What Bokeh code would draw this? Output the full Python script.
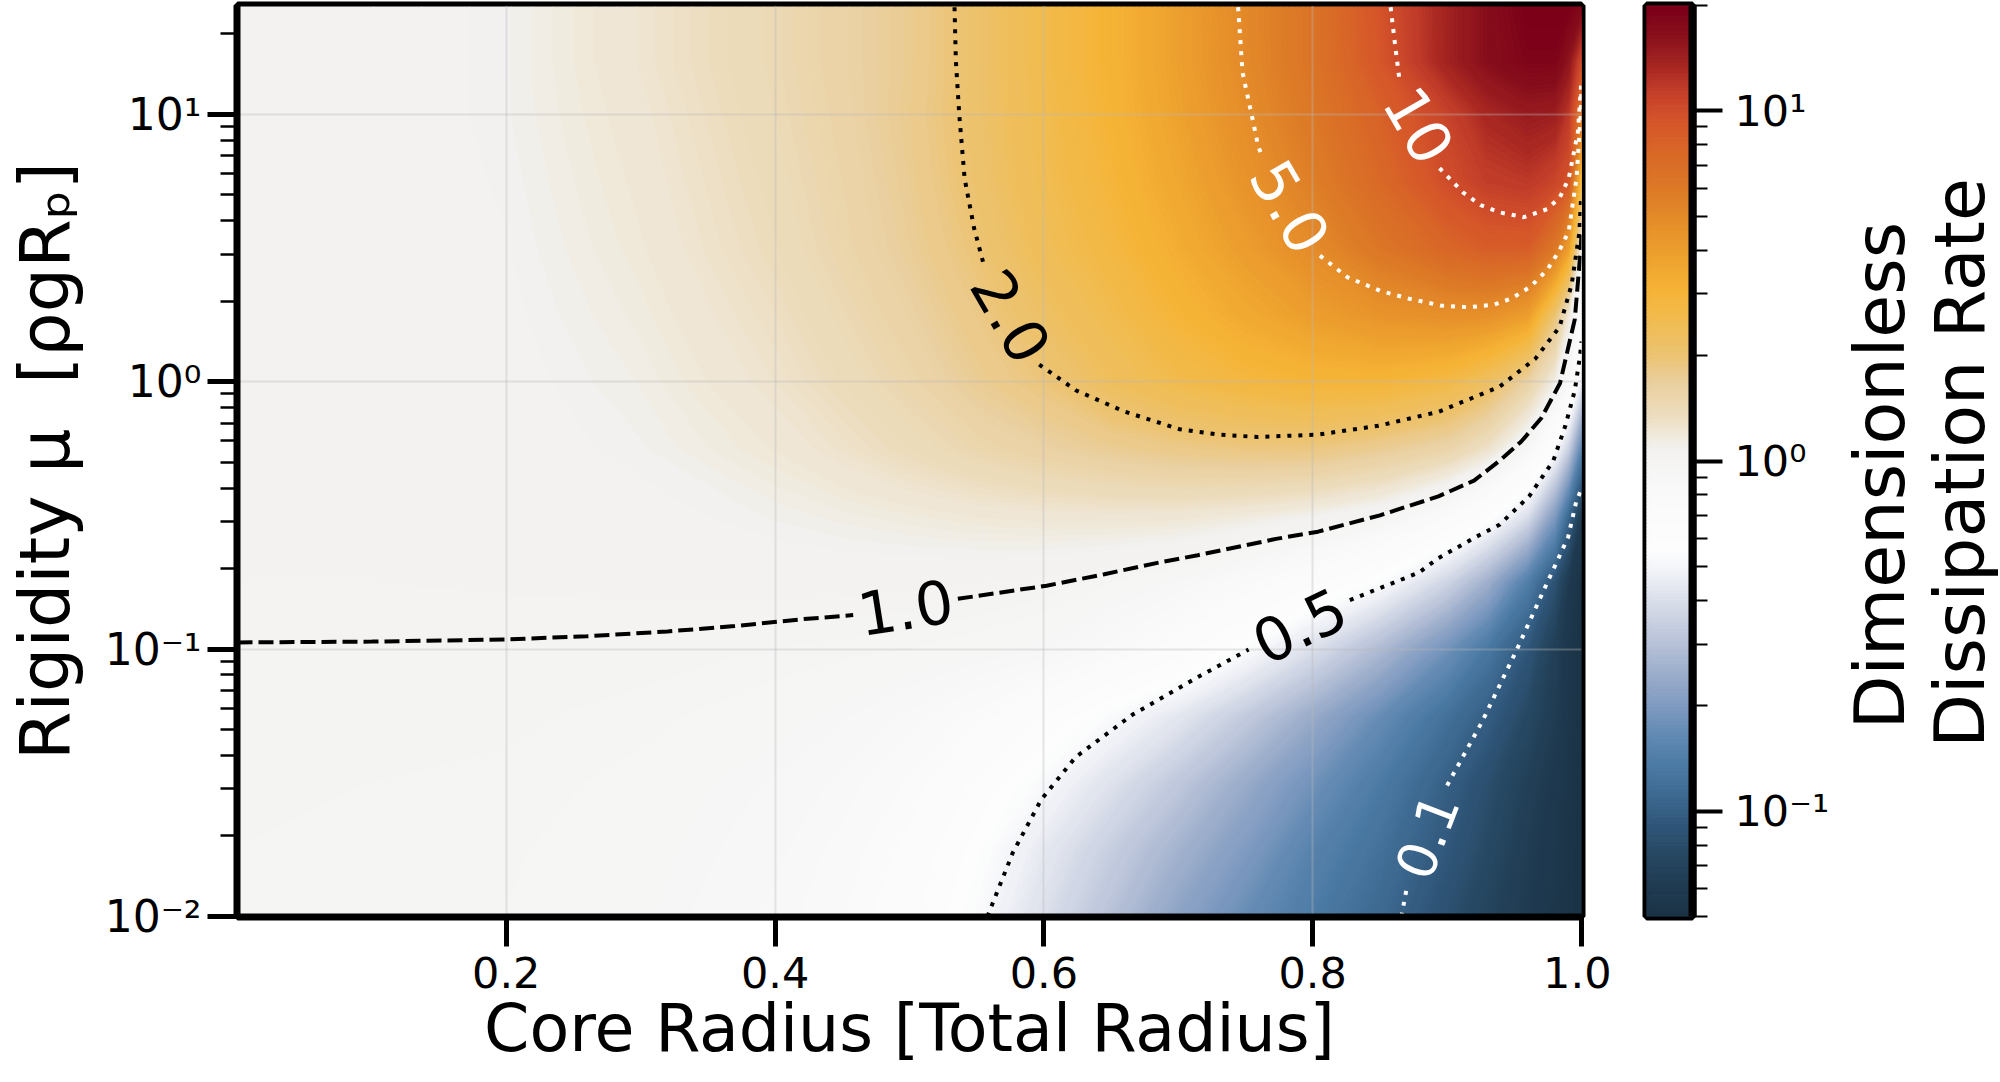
import numpy as np
from bokeh.plotting import figure
from bokeh.layouts import row
from bokeh.models import ColumnDataSource, FixedTicker, Range1d
from bokeh.plotting.contour import contour_data
from bokeh.core.properties import value
from bokeh.embed import file_html
from bokeh.resources import INLINE

# ---------------- data ----------------
core_radius = [0.0, 0.1, 0.2, 0.3, 0.4, 0.45, 0.5, 0.55, 0.6, 0.65, 0.7, 0.75,
               0.8, 0.85, 0.9, 0.93, 0.96, 0.98, 0.99, 1.0]
rigidity_exp = [-2.0, -1.75, -1.5, -1.25, -1.0, -0.75, -0.5, -0.25, 0.0, 0.25,
                0.5, 0.75, 1.0, 1.2, 1.4]   # log10 of rigidity

diss_m200 = [0.975, 0.97, 0.96, 0.93, 0.86, 0.79, 0.68, 0.53, 0.40, 0.30, 0.22, 0.17, 0.135, 0.11, 0.083, 0.07, 0.06, 0.054, 0.052, 0.05]
diss_m175 = [0.98, 0.975, 0.965, 0.94, 0.88, 0.82, 0.72, 0.57, 0.44, 0.34, 0.26, 0.20, 0.15, 0.12, 0.092, 0.076, 0.062, 0.055, 0.052, 0.05]
diss_m150 = [0.985, 0.98, 0.975, 0.95, 0.90, 0.86, 0.78, 0.64, 0.52, 0.41, 0.32, 0.24, 0.18, 0.135, 0.10, 0.082, 0.066, 0.057, 0.053, 0.05]
diss_m125 = [0.99, 0.99, 0.985, 0.97, 0.94, 0.91, 0.86, 0.77, 0.65, 0.53, 0.43, 0.33, 0.24, 0.17, 0.12, 0.098, 0.075, 0.062, 0.055, 0.05]
diss_m100 = [0.998, 0.998, 0.997, 0.993, 0.978, 0.97, 0.96, 0.94, 0.91, 0.82, 0.70, 0.54, 0.40, 0.28, 0.18, 0.13, 0.09, 0.065, 0.055, 0.05]
diss_m075 = [1.02, 1.02, 1.025, 1.03, 1.035, 1.035, 1.03, 1.02, 1.003, 0.96, 0.90, 0.80, 0.68, 0.54, 0.36, 0.25, 0.14, 0.085, 0.06, 0.05]
diss_m050 = [1.03, 1.03, 1.04, 1.06, 1.11, 1.14, 1.17, 1.20, 1.22, 1.23, 1.22, 1.17, 1.10, 1.0, 0.78, 0.60, 0.40, 0.20, 0.11, 0.06]
diss_m025 = [1.03, 1.03, 1.05, 1.10, 1.20, 1.28, 1.38, 1.50, 1.62, 1.74, 1.84, 1.90, 1.90, 1.75, 1.55, 1.28, 0.92, 0.55, 0.35, 0.15]
diss_p000 = [1.03, 1.035, 1.06, 1.13, 1.27, 1.38, 1.52, 1.74, 1.95, 2.30, 2.60, 2.85, 3.0, 3.0, 2.7, 2.25, 1.6, 1.12, 0.85, 0.45]
diss_p025 = [1.03, 1.04, 1.07, 1.16, 1.32, 1.45, 1.62, 1.86, 2.2, 2.55, 3.0, 3.5, 4.0, 4.5, 4.75, 4.7, 4.0, 2.0, 1.2, 0.7]
diss_p050 = [1.03, 1.04, 1.08, 1.19, 1.37, 1.52, 1.71, 1.98, 2.4, 2.8, 3.35, 4.05, 4.95, 6.3, 7.8, 8.6, 8.6, 6.2, 4.0, 1.0]
diss_p075 = [1.03, 1.04, 1.09, 1.21, 1.40, 1.55, 1.75, 2.07, 2.5, 2.95, 3.6, 4.5, 5.7, 7.5, 10.1, 11.5, 12.0, 10.8, 9.5, 2.5]
diss_p100 = [1.03, 1.04, 1.10, 1.23, 1.43, 1.58, 1.78, 2.10, 2.55, 3.05, 3.8, 4.85, 6.2, 8.2, 11.0, 13.5, 15.0, 14.5, 12.0, 6.0]
diss_p120 = [1.03, 1.04, 1.10, 1.25, 1.45, 1.60, 1.76, 2.10, 2.6, 3.1, 3.9, 5.05, 6.5, 9.3, 14.0, 17.0, 19.0, 19.0, 16.0, 10.0]
diss_p140 = [1.03, 1.04, 1.10, 1.25, 1.45, 1.60, 1.76, 2.10, 2.6, 3.1, 3.9, 5.1, 6.5, 9.5, 14.0, 17.0, 20.0, 21.0, 21.0, 18.0]

# contour lines (core radius, log10 rigidity), split where the labels sit
c10_a_x = [0.858, 0.8615, 0.8647]
c10_a_e = [1.40, 1.25, 1.124]
c10_b_x = [0.8944, 0.912, 0.925, 0.939, 0.957, 0.9745, 0.984, 0.9905, 0.9973, 1.0]
c10_b_e = [0.798, 0.707, 0.66, 0.633, 0.615, 0.645, 0.69, 0.76, 0.932, 1.13]

c5_a_x = [0.7445, 0.7478, 0.7545, 0.759, 0.7622]
c5_a_e = [1.40, 1.156, 1.0, 0.891, 0.84]
c5_b_x = [0.8054, 0.826, 0.85, 0.871, 0.895, 0.916, 0.935, 0.948, 0.962, 0.9745, 0.9835, 0.9905, 0.9963, 0.9994, 1.0]
c5_b_e = [0.471, 0.39, 0.34, 0.311, 0.285, 0.278, 0.288, 0.311, 0.355, 0.418, 0.49, 0.562, 0.76, 1.0, 1.1]

c2_a_x = [0.5335, 0.5345, 0.537, 0.541, 0.548, 0.5557]
c2_a_e = [1.40, 1.20, 1.00, 0.76, 0.575, 0.429]
c2_b_x = [0.5965, 0.624, 0.66, 0.701, 0.73, 0.759, 0.804, 0.849, 0.894, 0.939, 0.9657, 0.9837, 0.9927, 0.9984, 0.9998]
c2_b_e = [0.064, -0.033, -0.112, -0.178, -0.198, -0.207, -0.198, -0.165, -0.112, -0.019, 0.086, 0.205, 0.364, 0.557, 0.70]

c1_a_x = [0.0, 0.1, 0.2, 0.26, 0.32, 0.37, 0.421, 0.4581]
c1_a_e = [-0.975, -0.972, -0.964, -0.952, -0.934, -0.914, -0.888, -0.873]
c1_b_x = [0.536, 0.602, 0.645, 0.687, 0.7145, 0.7727, 0.804, 0.85, 0.8935, 0.92, 0.939, 0.955, 0.97, 0.984, 0.995, 0.9994, 1.0]
c1_b_e = [-0.812, -0.763, -0.72, -0.675, -0.649, -0.588, -0.561, -0.50, -0.429, -0.37, -0.296, -0.225, -0.137, -0.006, 0.233, 0.495, 0.55]

c05_a_x = [0.558, 0.5768, 0.598, 0.6236, 0.666, 0.717, 0.7523]
c05_a_e = [-2.0, -1.762, -1.563, -1.404, -1.245, -1.098, -1.002]
c05_b_x = [0.8276, 0.851, 0.879, 0.8935, 0.9217, 0.939, 0.961, 0.979, 0.988, 0.995, 0.999, 1.0]
c05_b_e = [-0.817, -0.77, -0.714, -0.66, -0.58, -0.535, -0.429, -0.296, -0.165, -0.033, 0.10, 0.15]

c01_a_x = [0.866, 0.870]
c01_a_e = [-2.0, -1.893]
c01_b_x = [0.900, 0.926, 0.9515, 0.973, 0.99, 0.996, 1.0]
c01_b_e = [-1.51, -1.272, -1.006, -0.768, -0.582, -0.45, -0.40]

label_text = ["10", "5.0", "2.0", "1.0", "0.5", "0.1"]
label_x = [0.8796, 0.7838, 0.576, 0.497, 0.790, 0.885]
label_e = [0.961, 0.6555, 0.2465, -0.8415, -0.9095, -1.70]

x_ticks = [0.2, 0.4, 0.6, 0.8, 1.0]
x_tick_labels = ["0.2", "0.4", "0.6", "0.8", "1.0"]
y_ticks = [0.01, 0.1, 1.0, 10.0]
y_tick_labels = ["10⁻²", "10⁻¹", "10⁰", "10¹"]
cb_ticks = [0.1, 1.0, 10.0]
cb_tick_labels = ["10⁻¹", "10⁰", "10¹"]

x_title = "Core Radius [Total Radius]"
y_title = "Rigidity μ\u00a0\u00a0[ρgRₚ]"
cb_title = ["Dimensionless", "Dissipation Rate"]

# ---------------- styling ----------------
FONT = "DejaVu Sans"
VMIN, VMAX = 0.05, 20.0
H = 1082
TOP, BOTTOM = 5, 166

anchors = [(-1.301, "#1b3346"), (-1.21, "#203c53"), (-1.125, "#274862"), (-1.04, "#30577a"),
           (-0.958, "#3d6990"), (-0.873, "#4b7aa4"), (-0.787, "#6189b2"), (-0.705, "#7e9ac0"),
           (-0.62, "#98abc9"), (-0.535, "#b3bed6"), (-0.452, "#cbd2e2"), (-0.367, "#e3e6ef"),
           (-0.30, "#f5f6fa"), (-0.25, "#fdfdfd"), (-0.115, "#fafafa"), (-0.031, "#f6f6f6"),
           (0.035, "#f2f1ef"), (0.138, "#ecdcbc"), (0.221, "#ead0a0"), (0.305, "#ecc372"),
           (0.39, "#f0bd55"), (0.489, "#f6b436"), (0.59, "#eda02e"), (0.69, "#e58d2a"),
           (0.773, "#dd7b27"), (0.872, "#d96a27"), (0.97, "#d6562a"), (1.055, "#c5402a"),
           (1.14, "#a42421"), (1.225, "#880f1c"), (1.301, "#7b0018")]


def hex2rgb(h):
    return [int(h[i:i + 2], 16) for i in (1, 3, 5)]


a_pos = np.array([a[0] for a in anchors])
a_col = np.array([hex2rgb(a[1]) for a in anchors], dtype=float)
NPAL = 256
t = np.linspace(a_pos[0], a_pos[-1], NPAL)
palette = ["#%02x%02x%02x" % tuple(int(round(np.interp(tt, a_pos, a_col[:, k]))) for k in range(3)) for tt in t]

lo, hi = np.log10(VMIN), np.log10(VMAX)

# ---------------- main figure ----------------
p = figure(width=1611, height=H, x_range=Range1d(0, 1), y_range=Range1d(0.01, 25.5),
           y_axis_type="log", output_backend="svg", toolbar_location=None,
           min_border_left=232, min_border_right=30, min_border_top=TOP, min_border_bottom=BOTTOM)
p.background_fill_color = "#f3f2f0"
p.border_fill_color = "white"
p.outline_line_color = "black"
p.outline_line_width = 8

# filled field via the library's contouring
dissipation = np.array([diss_m200, diss_m175, diss_m150, diss_m125, diss_m100, diss_m075, diss_m050,
                        diss_m025, diss_p000, diss_p025, diss_p050, diss_p075, diss_p100, diss_p120,
                        diss_p140])
z = np.log10(np.clip(dissipation, VMIN, VMAX))
nb = 300
levels = np.linspace(lo - 1e-6, hi + 1e-6, nb + 1)
cd = contour_data(np.array(core_radius), np.array(rigidity_exp), z, levels, want_fill=True, want_line=False)
fd = cd.fill_data
fx, fy, fc = [], [], []
for i in range(len(fd.xs)):
    lvx, lvy = fd.xs[i], fd.ys[i]
    if lvx is None or len(lvx) == 0:
        continue
    mid = 0.5 * (fd.lower_levels[i] + fd.upper_levels[i])
    idx = int(np.clip(round((mid - lo) / (hi - lo) * (NPAL - 1)), 0, NPAL - 1))
    fx.append([[np.asarray(r).tolist() for r in poly] for poly in lvx])
    fy.append([[(10.0 ** np.asarray(r)).tolist() for r in poly] for poly in lvy])
    fc.append(palette[idx])
fill_src = ColumnDataSource(dict(xs=fx, ys=fy, color=fc))
p.multi_polygons(xs="xs", ys="ys", source=fill_src, fill_color="color", line_color="color",
                 line_width=1.5, level="image")

# grid over the field
p.xgrid.ticker = FixedTicker(ticks=x_ticks)
p.ygrid.ticker = FixedTicker(ticks=y_ticks)
for g in (p.xgrid, p.ygrid):
    g.grid_line_color = "#b8b8b8"
    g.grid_line_alpha = 0.35
    g.grid_line_width = 2


def seg(xs, es):
    return list(xs), [10.0 ** e for e in es]


line_sets = [
    ([seg(c10_a_x, c10_a_e), seg(c10_b_x, c10_b_e), seg(c5_a_x, c5_a_e), seg(c5_b_x, c5_b_e),
      seg(c01_a_x, c01_a_e), seg(c01_b_x, c01_b_e)], "white", "4 7"),
    ([seg(c2_a_x, c2_a_e), seg(c2_b_x, c2_b_e), seg(c05_a_x, c05_a_e), seg(c05_b_x, c05_b_e)], "black", "4 7"),
    ([seg(c1_a_x, c1_a_e), seg(c1_b_x, c1_b_e)], "black", "15 6"),
]
for segs, col, dash in line_sets:
    p.multi_line(xs=[s[0] for s in segs], ys=[s[1] for s in segs], line_color=col,
                 line_width=4, line_dash=dash, line_cap="butt")

label_color = ["white", "white", "black", "black", "black", "white"]
label_angle_deg = [-60, -60, -60, 9, 26, 69]
label_size = ["60px", "60px", "60px", "60px", "60px", "54px"]
lab_src = ColumnDataSource(dict(x=label_x, y=[10.0 ** e for e in label_e], text=label_text,
                                color=label_color, angle=np.radians(label_angle_deg), size=label_size))
p.text(x="x", y="y", text="text", angle="angle", text_color="color", source=lab_src,
       text_font=value(FONT), text_font_size="size", text_align="center", text_baseline="middle")

# axes
for ax in (p.xaxis, p.yaxis):
    ax.axis_line_color = "black"
    ax.axis_line_width = 6
    ax.major_tick_line_width = 5
    ax.major_tick_out = 30
    ax.major_tick_in = 0
    ax.major_label_text_font = FONT
    ax.major_label_text_color = "black"
    ax.axis_label_text_font = FONT
    ax.axis_label_text_font_style = "normal"
    ax.axis_label_text_color = "black"

p.xaxis.ticker = FixedTicker(ticks=x_ticks)
p.xaxis.major_label_overrides = {v: s for v, s in zip(x_ticks, x_tick_labels)}
p.xaxis.minor_tick_line_color = None
p.xaxis.major_label_text_font_size = "43px"
p.xaxis.major_label_standoff = 10
p.xaxis.axis_label = x_title
p.xaxis.axis_label_text_font_size = "65px"
p.xaxis.axis_label_standoff = 0

p.yaxis.ticker = FixedTicker(ticks=y_ticks,
                             minor_ticks=[0.02, 0.03, 0.04, 0.05, 0.06, 0.07, 0.08, 0.09,
                                          0.2, 0.3, 0.4, 0.5, 0.6, 0.7, 0.8, 0.9,
                                          2, 3, 4, 5, 6, 7, 8, 9, 20])
p.yaxis.major_label_overrides = {v: s for v, s in zip(y_ticks, y_tick_labels)}
p.yaxis.major_label_text_font_size = "44px"
p.yaxis.minor_tick_line_color = "black"
p.yaxis.minor_tick_line_width = 2.5
p.yaxis.minor_tick_out = 17
p.yaxis.minor_tick_in = 0
p.yaxis.major_label_standoff = 6
p.yaxis.axis_label = y_title
p.yaxis.axis_label_text_font_size = "70px"
p.yaxis.axis_label_standoff = 16

# ---------------- colour bar (own narrow figure) ----------------
p2 = figure(width=221, height=H, x_range=Range1d(0, 1), y_range=Range1d(VMIN, VMAX),
            y_axis_type="log", y_axis_location="right", x_axis_location=None,
            output_backend="svg", toolbar_location=None,
            min_border_left=35, min_border_right=140, min_border_top=TOP, min_border_bottom=BOTTOM)
p2.grid.visible = False
p2.outline_line_color = "black"
p2.outline_line_width = 8
edges = np.linspace(lo, hi, NPAL + 1)
p2.quad(left=0, right=1, bottom=10.0 ** edges[:-1], top=10.0 ** edges[1:],
        fill_color=palette, line_color=palette, line_width=1)
ay = p2.yaxis[0]
ay.ticker = FixedTicker(ticks=cb_ticks,
                        minor_ticks=[0.05, 0.06, 0.07, 0.08, 0.09, 0.2, 0.3, 0.4, 0.5, 0.6,
                                     0.7, 0.8, 0.9, 2, 3, 4, 5, 6, 7, 8, 9, 20])
ay.major_label_overrides = {v: s for v, s in zip(cb_ticks, cb_tick_labels)}
ay.axis_line_color = "black"
ay.axis_line_width = 8
ay.major_tick_out = 30
ay.major_tick_in = 0
ay.major_tick_line_width = 4
ay.minor_tick_out = 15
ay.minor_tick_in = 0
ay.minor_tick_line_width = 2
ay.minor_tick_line_color = "black"
ay.major_label_standoff = 12
ay.major_label_text_font = FONT
ay.major_label_text_font_size = "43px"
ay.major_label_text_color = "black"

# ---------------- colour-bar title ----------------
p3 = figure(width=168, height=H, x_range=Range1d(0, 168), y_range=Range1d(0, 1),
            output_backend="svg", toolbar_location=None, x_axis_location=None, y_axis_location=None,
            min_border_left=0, min_border_right=0, min_border_top=TOP, min_border_bottom=BOTTOM,
            outline_line_color=None)
p3.grid.visible = False
p3.text(x=[47, 127], y=[0.484, 0.498], text=cb_title, angle=np.pi / 2,
        text_font=value(FONT), text_font_size="70px", text_align="center", text_baseline="middle",
        text_color="black")

layout = row(p, p2, p3)
open("out.html", "w").write(file_html(layout, INLINE))
